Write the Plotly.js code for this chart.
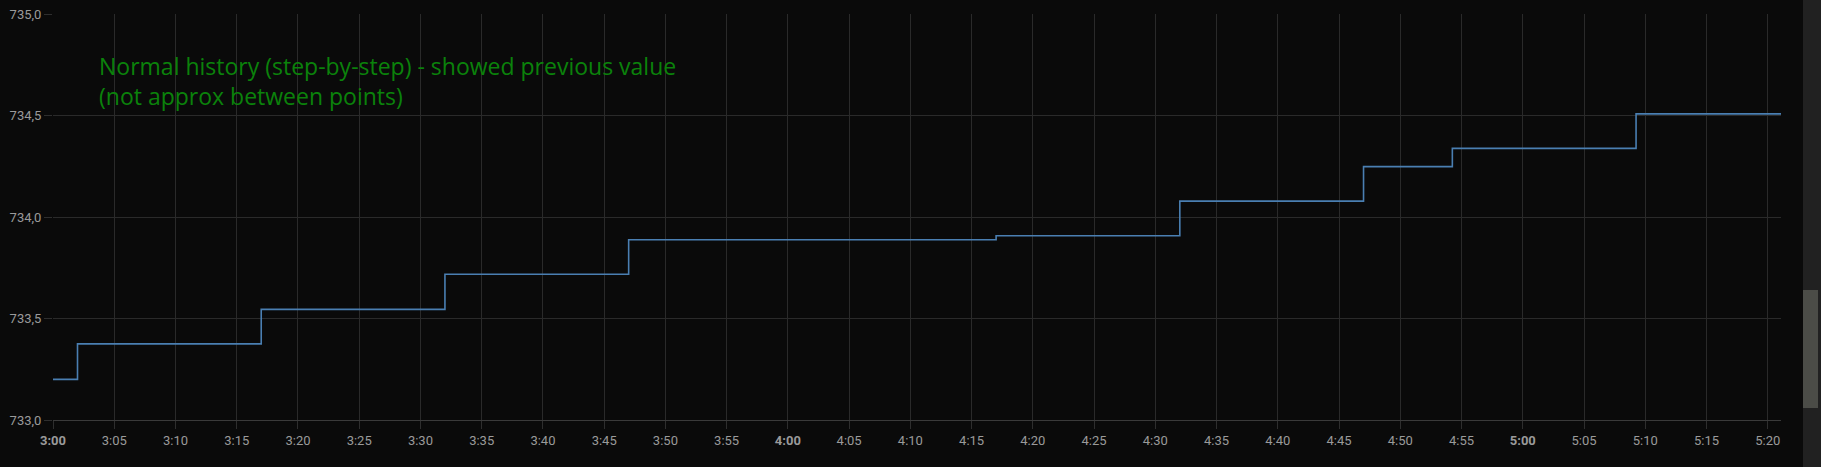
<!DOCTYPE html>
<html>
<head>
<meta charset="utf-8">
<script src="https://cdn.plot.ly/plotly-3.0.1.min.js"></script>
<style>
  html, body { margin: 0; padding: 0; background: #0a0a0a; overflow: hidden; }
  #chart { width: 1821px; height: 467px; }
  #scroll_track { position: absolute; left: 1803px; top: 0; width: 18px; height: 467px; background: #212121; }
  #scroll_thumb { position: absolute; left: 1803px; top: 290px; width: 15px; height: 118px; background: #4b4c47; }
</style>
</head>
<body>
<div id="chart"></div>
<div id="scroll_track"></div>
<div id="scroll_thumb"></div>
<script>
// step history (time of change, new value)
var times = ['2023-01-01 03:00:00', '2023-01-01 03:02:00', '2023-01-01 03:17:00', '2023-01-01 03:32:00',
             '2023-01-01 03:47:00', '2023-01-01 04:17:00', '2023-01-01 04:32:00', '2023-01-01 04:47:00',
             '2023-01-01 04:54:15', '2023-01-01 05:09:15', '2023-01-01 05:21:05'];
var values = [733.20, 733.375, 733.545, 733.718, 733.888, 733.908, 734.078, 734.248, 734.338, 734.508, 734.508];

var xTickLabels = ['<b>3:00</b>', '3:05', '3:10', '3:15', '3:20', '3:25', '3:30', '3:35', '3:40', '3:45', '3:50', '3:55',
                   '<b>4:00</b>', '4:05', '4:10', '4:15', '4:20', '4:25', '4:30', '4:35', '4:40', '4:45', '4:50', '4:55',
                   '<b>5:00</b>', '5:05', '5:10', '5:15', '5:20'];
var yTickVals = [733.0, 733.5, 734.0, 734.5, 735.0];
var yTickLabels = ['733,0', '733,5', '734,0', '734,5', '735,0'];

var noteText = 'Normal history (step-by-step) - showed previous value<br>(not approx between points)';

// tick positions every 5 minutes from 3:00
var xTickVals = [];
for (var i = 0; i < xTickLabels.length; i++) {
  var d = new Date(2023, 0, 1, 3, i * 5, 0);
  var mm = d.getMinutes();
  xTickVals.push('2023-01-01 0' + d.getHours() + ':' + (mm < 10 ? '0' + mm : mm) + ':00');
}

var trace = {
  x: times,
  y: values,
  type: 'scatter',
  mode: 'lines',
  line: { shape: 'hv', color: '#4a7fb2', width: 1.6 },
  name: 'history',
  showlegend: false,
  hoverinfo: 'x+y'
};

var layout = {
  width: 1821,
  height: 467,
  margin: { l: 53, r: 40, t: 14, b: 47 },
  paper_bgcolor: '#0a0a0a',
  plot_bgcolor: '#0a0a0a',
  font: { family: 'Roboto, Arial, sans-serif', size: 13, color: '#9a9a9a' },
  showlegend: false,
  xaxis: {
    type: 'date',
    range: [times[0], times[times.length - 1]],
    tickmode: 'array',
    tickvals: xTickVals,
    ticktext: xTickLabels,
    ticks: 'outside',
    ticklen: 8,
    tickcolor: '#2e2e2e',
    gridcolor: '#2a2a2a',
    gridwidth: 1,
    showline: true,
    linecolor: '#3a3a3a',
    zeroline: false,
    tickfont: { size: 13, color: '#9a9a9a' }
  },
  yaxis: {
    range: [733.0, 735.0],
    tickmode: 'array',
    tickvals: yTickVals,
    ticktext: yTickLabels,
    ticks: 'outside',
    ticklen: 8,
    tickcolor: '#2e2e2e',
    gridcolor: '#2a2a2a',
    gridwidth: 1,
    showline: false,
    zeroline: false,
    tickfont: { size: 13, color: '#9a9a9a' }
  },
  annotations: [{
    xref: 'paper', yref: 'paper',
    x: 0.0255, y: 0.917,
    xanchor: 'left', yanchor: 'top',
    align: 'left',
    showarrow: false,
    text: noteText,
    font: { family: 'Open Sans, Noto Sans, sans-serif', size: 23, color: '#0b820b' }
  }]
};

Plotly.newPlot('chart', [trace], layout, { displayModeBar: false, staticPlot: true });
</script>
</body>
</html>
